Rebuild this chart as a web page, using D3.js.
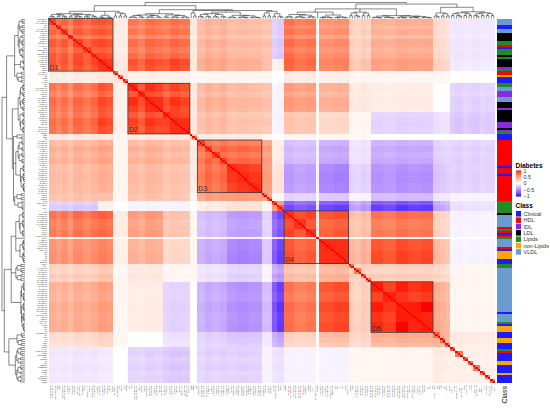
<!DOCTYPE html>
<html><head><meta charset="utf-8">
<script src="https://cdn.jsdelivr.net/npm/d3@7"></script>
<style>body{margin:0;background:#fff}svg{display:block}</style>
</head><body>
<svg id="c" width="550" height="420"></svg>
<script>
// ---------------- DATA ----------------
const groupNames = ["D1a","D1b","G1","D2a","D2b","G2","D3a","D3b","G3a","G3b","D4a","D4w","D4b","G4","D5","T1","T2"];
const groupSizes = [20,6,6,14,11,3,12,14,4,5,13,1,12,9,25,7,18];
const microSizes = [[3,2,3,2,4,3,3],[3,3],[2,2,2],[4,3,4,3],[3,4,4],[1,2],[3,3,3,3],[4,5,5],[2,2],[2,3],[4,5,4],[1],[6,6],[2,3,2,2],[5,5,5,5,5],[3,2,2],[2,3,2,2,3,2,2,2]];
const microWeights = [[1.0,0.9,1.0,0.85,1.05,0.95,1.05],[1.05,1.0],[1,1,1],[1.0,0.9,1.05,1.0],[0.95,1.05,1.0],[1,1],[0.9,1.05,0.95,1.05],[1.0,1.05,1.0],[1,1],[0.9,1.05],[1.05,0.95,1.0],[1],[1.0,1.05],[1,0.9,1.1,1],[1.0,0.95,1.05,1.0,1.03],[1.1,1,0.9],[1,1.1,0.9,1,1.1,0.9,1,1]];
const microCorr = [0.9,0.95,0.7,0.95,0.95,0.6,0.9,0.95,0.7,0.8,0.93,1,0.95,0.7,0.97,0.75,0.7];
// lower triangle of group-to-group correlation (last entry of each row = within group)
const groupCorr = [
 [0.78],
 [0.80,0.88],
 [0.10,0.12,0.15],
 [0.70,0.80,0.08,0.90],
 [0.70,0.82,0.08,0.85,0.90],
 [0.12,0.12,0.05,0.12,0.12,0.30],
 [0.40,0.45,0.05,0.40,0.35,0.10,0.72],
 [0.35,0.40,0.05,0.35,0.30,0.10,0.70,0.88],
 [0.32,0.32,0.05,0.32,0.28,0.05,0.50,0.50,0.45],
 [-0.22,0.08,0.00,-0.05,-0.05,0.00,0.10,0.15,0.05,0.55],
 [0.68,0.72,0.10,0.50,0.30,0.05,-0.28,-0.40,-0.18,-0.70,0.85],
 [0.05,0.05,0.02,0.05,0.02,0.00,-0.05,-0.05,0.00,-0.10,0.10,1],
 [0.55,0.60,0.08,0.40,0.20,0.05,-0.35,-0.50,-0.22,-0.75,0.78,0.10,0.90],
 [0.25,0.30,0.05,0.12,0.05,0.05,-0.12,-0.18,-0.05,-0.40,0.32,0.05,0.38,0.25],
 [0.42,0.48,0.05,0.10,-0.18,0.00,-0.35,-0.45,-0.28,-0.78,0.68,0.05,0.82,0.25,0.93],
 [0.18,0.22,0.05,0.00,-0.12,0.00,-0.18,-0.22,-0.10,-0.35,0.22,0.00,0.32,0.20,0.40,0.38],
 [-0.10,-0.08,0.00,-0.18,-0.22,0.00,-0.18,-0.18,-0.05,-0.12,-0.05,0.00,-0.05,0.05,0.05,0.10,0.08]
];
// dendrogram merge heights (nested: [height, children...]; numbers = groups)
const treeSpec = [1.0,
  [0.8, [0.45, 0, 1, 2], [0.55, [0.3, 3, 4], [0.5, 5, [0.4, 6, 7], [0.45, 8, 9]]]],
  [0.9, [0.6, [0.4, 10, 11, 12], 13, 14], [0.7, 15, 16]]];
const groupTreeH = [0.3,0.2,0.35,0.22,0.22,0.35,0.3,0.2,0.35,0.3,0.25,0,0.22,0.4,0.18,0.35,0.42];
// annotated blocks (variable index ranges)
const blocks = [["D1",0,26],["D2",32,57],["D3",60,86],["D4",95,121],["D5",130,155]];
// class annotation, run-length
const classRuns = [["VLDL",3],["Clinical",2],["VLDL",2],["LDL",4],["Lipids",2],["HDL",1],["Clinical",1],["Lipids",3],["LDL",1],["Lipids",1],["LDL",4],["IDL",1],["Lipids",1],["HDL",2],["non-Lipids",1],["Clinical",3],["Lipids",2],["VLDL",2],["IDL",3],["VLDL",2],["LDL",3],["IDL",1],["LDL",6],["IDL",3],["LDL",1],["IDL",1],["Lipids",1],["Clinical",3],["HDL",13],["Clinical",1],["HDL",3],["Clinical",1],["HDL",12],["Lipids",6],["LDL",1],["VLDL",6],["HDL",1],["Lipids",1],["HDL",1],["Clinical",1],["HDL",1],["Lipids",1],["VLDL",4],["HDL",1],["Clinical",1],["non-Lipids",1],["non-Lipids",3],["Clinical",2],["Lipids",2],["VLDL",22],["Clinical",1],["VLDL",4],["Lipids",1],["Clinical",1],["non-Lipids",3],["Clinical",3],["non-Lipids",2],["Clinical",3],["Lipids",1],["HDL",1],["Clinical",4],["non-Lipids",2],["Clinical",4],["non-Lipids",1],["Clinical",4]];
const classNames = ["Clinical","HDL","IDL","LDL","Lipids","non-Lipids","VLDL"];
const classColors = ["#1c1cff","#ff0000","#8a2be2","#000000","#228b22","#ffa500","#6a9bd1"];
const namePools = {
 "VLDL":"XXL.VLDL.P XXL.VLDL.L XXL.VLDL.PL XXL.VLDL.C XXL.VLDL.CE XXL.VLDL.FC XXL.VLDL.TG XL.VLDL.P XL.VLDL.L XL.VLDL.PL XL.VLDL.C XL.VLDL.CE XL.VLDL.FC XL.VLDL.TG L.VLDL.P L.VLDL.L L.VLDL.PL L.VLDL.C L.VLDL.CE L.VLDL.FC L.VLDL.TG M.VLDL.P M.VLDL.L M.VLDL.PL M.VLDL.C M.VLDL.CE M.VLDL.FC M.VLDL.TG S.VLDL.P S.VLDL.L S.VLDL.PL S.VLDL.C S.VLDL.CE S.VLDL.FC S.VLDL.TG XS.VLDL.P XS.VLDL.L XS.VLDL.PL XS.VLDL.C XS.VLDL.CE XS.VLDL.FC XS.VLDL.TG VLDL.D VLDL.C VLDL.TG".split(" "),
 "LDL":"L.LDL.P L.LDL.L L.LDL.PL L.LDL.C L.LDL.CE L.LDL.FC L.LDL.TG M.LDL.P M.LDL.L M.LDL.PL M.LDL.C M.LDL.CE M.LDL.FC M.LDL.TG S.LDL.P S.LDL.L S.LDL.PL S.LDL.C S.LDL.CE S.LDL.FC".split(" "),
 "IDL":"IDL.P IDL.L IDL.PL IDL.C IDL.CE IDL.FC IDL.TG IDL.C_pct IDL.TG_pct".split(" "),
 "HDL":"XL.HDL.P XL.HDL.L XL.HDL.PL XL.HDL.C XL.HDL.CE XL.HDL.FC XL.HDL.TG L.HDL.P L.HDL.L L.HDL.PL L.HDL.C L.HDL.CE L.HDL.FC L.HDL.TG M.HDL.P M.HDL.L M.HDL.PL M.HDL.C M.HDL.CE M.HDL.FC M.HDL.TG S.HDL.P S.HDL.L S.HDL.PL S.HDL.C S.HDL.CE S.HDL.FC S.HDL.TG HDL.D HDL.C HDL2.C HDL3.C ApoA1 XL.HDL.C_pct L.HDL.C_pct M.HDL.C_pct".split(" "),
 "Lipids":"Serum.C Serum.TG Remnant.C LDL.C Esterified.C Free.C TotPG PC SM TotCho ApoB ApoB.ApoA1 TotFA DHA LA FAw3 FAw6 PUFA MUFA SFA DHA.FA LA.FA".split(" "),
 "Clinical":"Age Sex BMI Waist Hip WHR SBP DBP HR HbA1c Glucose.F Insulin HOMA.IR CRP Smoking Alcohol eGFR Creatinine.S ALT AST GGT Urate Ferritin Leptin Adiponectin TSH Calcium Sodium Potassium Height Weight PhysAct Education Income Statin".split(" "),
 "non-Lipids":"Glc Lac Pyr Cit Ala Gln Gly His Ile Leu Val Phe Tyr".split(" ")
};
const legendTicks = [1,0.5,0,-0.5,-1];

// ---------------- BUILD ----------------
const N = d3.sum(groupSizes);
const groupOf = [], microOf = [], weightOf = [];
{ let m = 0;
  groupSizes.forEach((s,g)=>{ microSizes[g].forEach((ms,k)=>{ for(let t=0;t<ms;t++){groupOf.push(g);microOf.push(m);weightOf.push(microWeights[g][k]);} m++; }); });
}
const gc = (a,b)=> a>=b ? groupCorr[a][b] : groupCorr[b][a];
const cells = [];
for (let i=0;i<N;i++) for (let j=0;j<N;j++){
  let v;
  if (i===j) v = 1;
  else if (microOf[i]===microOf[j]) v = microCorr[groupOf[i]];
  else v = Math.max(-1, Math.min(1, gc(groupOf[i], groupOf[j]) * weightOf[i] * weightOf[j]));
  cells.push({i,j,v});
}
const classes = []; classRuns.forEach(([c,n])=>{for(let t=0;t<n;t++)classes.push(c);});
const used = {}; const labels = classes.map(c=>{ used[c]=(used[c]||0); return namePools[c][used[c]++] || c; });

// ---------------- DRAW ----------------
const L=48.5, R=495, T=18.5, B=383;
const svg = d3.select("#c");
const font = "'Liberation Sans', Arial, Helvetica, sans-serif";
const idx = d3.range(N);
const x = d3.scaleBand().domain(idx).range([L,R]);
const y = d3.scaleBand().domain(idx).range([T,B]);
const color = d3.scaleLinear().domain([-1,0,1]).range(["#0000ff","#ffffff","#ff0000"]).interpolate(d3.interpolateLab).clamp(true);

svg.append("g").attr("shape-rendering","crispEdges").selectAll("rect").data(cells).join("rect")
  .attr("x",d=>x(d.j)).attr("y",d=>y(d.i))
  .attr("width",x.bandwidth()+0.05).attr("height",y.bandwidth()+0.05)
  .attr("fill",d=>color(d.v));

// blocks
const bg = svg.append("g");
blocks.forEach(([name,s,e])=>{
  bg.append("rect").attr("x",x(s)).attr("y",y(s)).attr("width",x(e-1)+x.bandwidth()-x(s)).attr("height",y(e-1)+y.bandwidth()-y(s))
    .attr("fill","none").attr("stroke","#3a3a3a").attr("stroke-width",0.8);
  bg.append("text").attr("x",x(s)+1).attr("y",y(e-1)+y.bandwidth()-1.5).text(name)
    .attr("font-family",font).attr("font-size",7).attr("fill","#333");
});

// class sidebar
const cmap = d3.scaleOrdinal().domain(classNames).range(classColors);
svg.append("g").attr("shape-rendering","crispEdges").selectAll("rect").data(classes).join("rect")
  .attr("x",497).attr("width",15).attr("y",(d,i)=>y(i)).attr("height",y.bandwidth()+0.05).attr("fill",d=>cmap(d));
svg.append("text").attr("transform","translate(506.5,386) rotate(-90)").attr("text-anchor","end")
  .attr("font-family",font).attr("font-size",7).attr("fill","#111").text("Class");

// labels
svg.append("g").selectAll("text").data(labels).join("text")
  .attr("x",47).attr("y",(d,i)=>y(i)+y.bandwidth()/2).attr("dy","0.35em").attr("text-anchor","end")
  .attr("font-family",font).attr("font-size",1.9).attr("fill","#222").text(d=>d);
svg.append("g").selectAll("text").data(labels).join("text")
  .attr("transform",(d,i)=>`translate(${x(i)+x.bandwidth()/2},385.5) rotate(-90)`).attr("dy","0.35em").attr("text-anchor","end")
  .attr("font-family",font).attr("font-size",2.3).attr("fill","#222").text(d=>d);

// dendrogram tree
const gStart = []; { let c=0; groupSizes.forEach(s=>{gStart.push(c); c+=s;}); }
function balanced(lo,hi,h){ if(hi-lo===1) return {h:0,leaf:lo}; const mid=Math.floor((lo+hi)/2); return {h, children:[balanced(lo,mid,h*0.72),balanced(mid,hi,h*0.72)]}; }
function combine(nodes,h,floor){ if(nodes.length===1) return nodes[0]; const mid=Math.floor(nodes.length/2);
  const hc=Math.max(h*0.85,floor); return {h, children:[combine(nodes.slice(0,mid),hc,floor),combine(nodes.slice(mid),hc,floor)]}; }
function groupNode(g){
  const H=groupTreeH[g], mh=H*0.45; let s=gStart[g];
  const ms = microSizes[g].map(m=>{ const n=balanced(s,s+m,mh); s+=m; return n; });
  if (ms.length===1) { if(ms[0].children) ms[0].h=H; return ms[0]; }
  return combine(ms,H,mh*1.1);
}
function build(spec){ if(typeof spec==="number") return groupNode(spec); return {h:spec[0], children:spec.slice(1).map(build)}; }
const root = build(treeSpec);
function pos(n){ if(n.children){ n.children.forEach(pos); n.p=(n.children[0].p+n.children[n.children.length-1].p)/2; } else n.p=n.leaf+0.5; }
pos(root);
function dendro(n, path, fp, fh){
  if(!n.children) return;
  const a=fp(n.children[0].p), b=fp(n.children[n.children.length-1].p), hh=fh(n.h);
  path.push([a,hh,b,hh]);
  n.children.forEach(c=>{ path.push([fp(c.p),hh,fp(c.p),fh(c.h)]); dendro(c,path,fp,fh); });
}
const pxs = d3.scaleLinear().domain([0,N]).range([L,R]);
const pys = d3.scaleLinear().domain([0,N]).range([T,B]);
const hTop = d3.scaleLinear().domain([0,1]).range([T,2.5]);
const hLeft = d3.scaleLinear().domain([0,1]).range([25,2]);
const segTop=[]; dendro(root,segTop,pxs,hTop);
const segLeft=[]; dendro(root,segLeft,pys,hLeft);
const pTop=d3.path(); segTop.forEach(([a,b,c,d])=>{pTop.moveTo(a,b);pTop.lineTo(c,d);});
svg.append("path").attr("d",pTop.toString()).attr("fill","none").attr("stroke","#111").attr("stroke-width",0.5);
const pLeft=d3.path(); segLeft.forEach(([a,b,c,d])=>{pLeft.moveTo(b,a);pLeft.lineTo(d,c);});
svg.append("path").attr("d",pLeft.toString()).attr("fill","none").attr("stroke","#111").attr("stroke-width",0.5);

// legend: Diabetes
const lg = svg.append("g").attr("font-family",font);
lg.append("text").attr("x",515.5).attr("y",168).attr("font-size",6.5).attr("font-weight","bold").text("Diabetes");
const ly = d3.scaleLinear().domain([-1,1]).range([196,171]);
const defs = svg.append("defs");
const grad = defs.append("linearGradient").attr("id","gr").attr("x1",0).attr("y1",1).attr("x2",0).attr("y2",0);
d3.range(-1,1.001,0.1).forEach(v=>grad.append("stop").attr("offset",(v+1)/2).attr("stop-color",color(v)));
lg.append("rect").attr("x",516).attr("y",170.5).attr("width",5).attr("height",26).attr("fill","url(#gr)");
lg.selectAll("text.t").data(legendTicks).join("text").attr("class","t")
  .attr("x",523.5).attr("y",d=>ly(d)).attr("dy","0.35em").attr("font-size",5.5).attr("fill","#333")
  .text(d=> d<0 ? "\u2212"+Math.abs(d) : d);
// legend: Class
lg.append("text").attr("x",515.5).attr("y",208).attr("font-size",6.5).attr("font-weight","bold").text("Class");
const ci = d3.scaleBand().domain(classNames).range([211,255.5]);
lg.selectAll("rect.c").data(classNames).join("rect").attr("class","c")
  .attr("x",516).attr("y",d=>ci(d)).attr("width",5).attr("height",ci.bandwidth()-0.8).attr("fill",d=>cmap(d));
lg.selectAll("text.c").data(classNames).join("text").attr("class","c")
  .attr("x",523.5).attr("y",d=>ci(d)+ci.bandwidth()/2).attr("dy","0.3em").attr("font-size",5.5).attr("fill","#333").text(d=>d);
</script>
</body></html>
